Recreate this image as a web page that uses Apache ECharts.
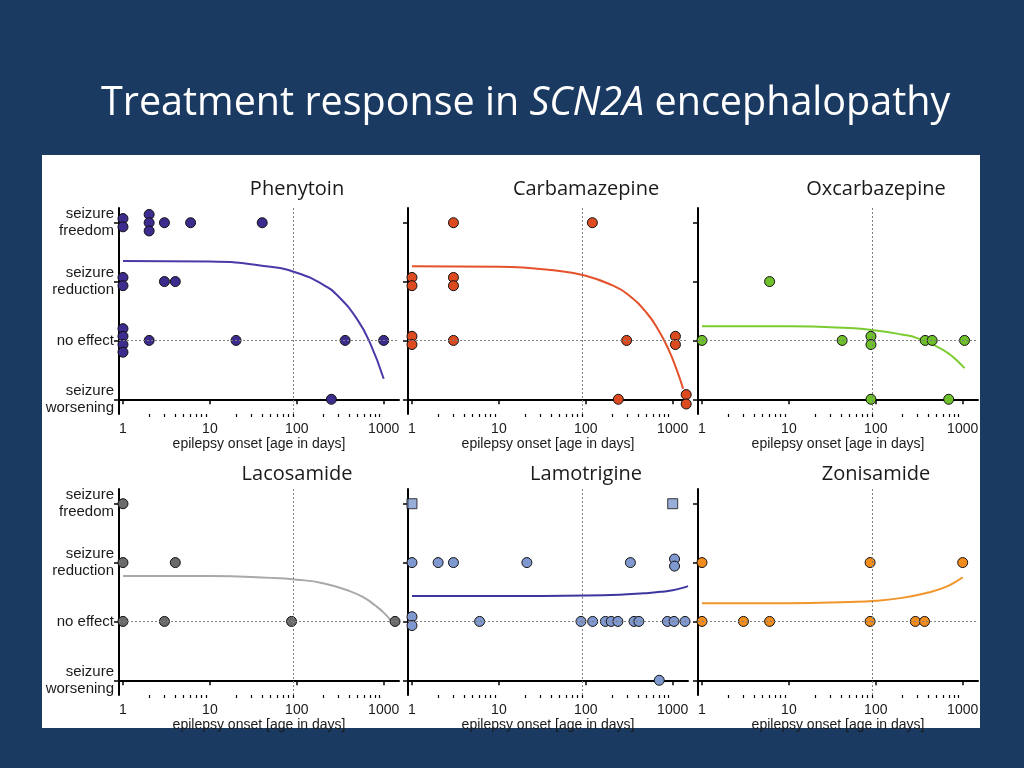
<!DOCTYPE html>
<html>
<head>
<meta charset="utf-8">
<title>Treatment response in SCN2A encephalopathy</title>
<script src="https://cdn.jsdelivr.net/npm/echarts@6/dist/echarts.min.js"></script>
<style>
  html, body { margin: 0; padding: 0; background: #1b3a61; }
  #chart { width: 1024px; height: 768px; }
</style>
</head>
<body>
<div id="chart"></div>
<script>
const drugs = ['Phenytoin', 'Carbamazepine', 'Oxcarbazepine', 'Lacosamide', 'Lamotrigine', 'Zonisamide'];
const levels = [0, 1, 2, 3];
const levelLabels = ['seizure\nworsening', 'no effect', 'seizure\nreduction', 'seizure\nfreedom'];
const xTicks = [1, 10, 100, 1000];
const xMinorTicks = [2, 3, 4, 5, 6, 7, 8, 9, 20, 30, 40, 50, 60, 70, 80, 90,
  200, 300, 400, 500, 600, 700, 800, 900];
const cutoffDay = 90;

// [age in days, response level]; stacked duplicates are nudged as in the figure
const phenytoinPts = [[1, 3.07], [1, 2.93], [2, 3.14], [2, 3], [2, 2.86], [3, 3], [6, 3], [40, 3],
  [1, 2.07], [1, 1.93], [3, 2], [4, 2],
  [1, 1.2], [1, 1.07], [1, 0.93], [1, 0.8], [2, 1], [20, 1], [360, 1], [1000, 1],
  [250, 0]];
const carbamazepinePts = [[3, 3], [119, 3],
  [1, 2.07], [1, 1.93], [3, 2.07], [3, 1.93],
  [1, 1.07], [1, 0.93], [3, 1], [295, 1], [1075, 1.07], [1075, 0.93],
  [237, 0], [1430, 0.08], [1430, -0.08]];
const oxcarbazepinePts = [[6, 2], [1, 1], [41, 1], [88, 1.07], [88, 0.93], [370, 1], [445, 1], [1050, 1],
  [88, 0], [690, 0]];
const lacosamidePts = [[1, 3], [1, 2], [4, 2], [1, 1], [3, 1], [87, 1], [1350, 1]];
const lamotriginePts = [[1, 2], [2, 2], [3, 2], [21, 2], [326, 2], [1050, 2.06], [1050, 1.94],
  [1, 1.08], [1, 0.93], [6, 1], [88, 1], [120, 1], [168, 1], [196, 1], [234, 1], [359, 1], [408, 1],
  [869, 1], [1035, 1], [1386, 1], [700, 0]];
const lamotrigineSquares = [[1, 3], [1000, 3]];
const zonisamidePts = [[1, 2], [86, 2], [1000, 2], [1, 1], [3, 1], [6, 1], [86, 1], [285, 1], [364, 1]];

// fitted curves
const phenytoinFit = [[1, 2.35], [10, 2.34], [50, 2.25], [100, 2.15], [200, 1.95], [300, 1.75], [500, 1.35], [700, 0.95], [1000, 0.35]];
const carbamazepineFit = [[1, 2.26], [10, 2.25], [50, 2.18], [100, 2.1], [200, 1.94], [300, 1.79], [500, 1.47], [700, 1.15], [900, 0.84], [1100, 0.52], [1320, 0.18]];
const oxcarbazepineFit = [[1, 1.24], [10, 1.24], [50, 1.21], [100, 1.17], [200, 1.1], [300, 1.04], [500, 0.9], [700, 0.77], [900, 0.63], [1050, 0.53]];
const lacosamideFit = [[1, 1.77], [10, 1.77], [50, 1.74], [100, 1.71], [200, 1.65], [400, 1.52], [600, 1.4], [800, 1.27], [1000, 1.15], [1200, 1.02]];
const lamotrigineFit = [[1, 1.43], [10, 1.43], [100, 1.44], [300, 1.46], [500, 1.48], [800, 1.51], [1000, 1.53], [1300, 1.57], [1500, 1.6]];
const zonisamideFit = [[1, 1.31], [10, 1.31], [50, 1.33], [100, 1.35], [200, 1.4], [400, 1.49], [600, 1.57], [800, 1.66], [1000, 1.75]];

const pointSets = [phenytoinPts, carbamazepinePts, oxcarbazepinePts, lacosamidePts, lamotriginePts, zonisamidePts];
const fitSets = [phenytoinFit, carbamazepineFit, oxcarbazepineFit, lacosamideFit, lamotrigineFit, zonisamideFit];
const pointColors = ['#3d2b8e', '#dc4a1f', '#6ec12a', '#6b6b6b', '#7f98cf', '#f28c1c'];
const lineColors = ['#4a3aa8', '#e4512a', '#7acc30', '#a9a9a9', '#3d35a0', '#f0952a'];

const colLeft = [119, 408, 698];
const rowTop = [208, 489];
const gridW = 280;
const gridH = 206;
const axisFont = 'Liberation Sans, Arial, sans-serif';

const myChart = echarts.init(document.getElementById('chart'));

const grids = [], xAxes = [], yAxes = [], series = [], titles = [];

drugs.forEach((name, i) => {
  const col = i % 3, row = Math.floor(i / 3);
  grids.push({ left: colLeft[col], top: rowTop[row], width: gridW, height: gridH });
  titles.push({
    text: name,
    left: colLeft[col] + 173,
    top: row === 0 ? 174 : 459,
    textAlign: 'center',
    textStyle: { fontFamily: 'Open Sans', fontSize: 20, fontWeight: 'normal', color: '#1a1a1a' }
  });
  xAxes.push({
    type: 'log', logBase: 10, gridIndex: i, min: 0.9, max: 1500,
    name: 'epilepsy onset [age in days]',
    nameLocation: 'middle', nameGap: 20,
    nameTextStyle: { fontFamily: axisFont, fontSize: 14, color: '#1a1a1a' },
    axisLine: { lineStyle: { color: '#000', width: 2 } },
    axisTick: { length: 5, lineStyle: { color: '#000', width: 1.5 }, customValues: xTicks },
    axisLabel: { customValues: xTicks, margin: 8, fontFamily: axisFont, fontSize: 14, color: '#1a1a1a',
      formatter: v => String(Math.round(v)) },
    splitLine: { show: false }
  });
  // minor ticks between decades
  xAxes.push({
    type: 'log', logBase: 10, gridIndex: i, min: 0.9, max: 1500, position: 'bottom',
    axisLine: { show: false },
    axisTick: { length: 3, lineStyle: { color: '#000', width: 1.2 }, customValues: xMinorTicks },
    axisLabel: { show: false },
    splitLine: { show: false }
  });
  yAxes.push({
    type: 'value', gridIndex: i, min: -0.25, max: 3.25,
    axisLine: { show: true, lineStyle: { color: '#000', width: 2 } },
    axisTick: { show: true, length: 5, lineStyle: { color: '#000', width: 1.5 }, customValues: levels },
    axisLabel: {
      show: col === 0, customValues: levels, margin: 5,
      fontFamily: axisFont, fontSize: 15, lineHeight: 17, color: '#1a1a1a', align: 'right',
      formatter: v => levelLabels[Math.round(v)]
    },
    splitLine: { show: false }
  });
  series.push({
    type: 'line', xAxisIndex: i * 2, yAxisIndex: i, data: fitSets[i],
    smooth: true, showSymbol: false, silent: true, z: 2,
    lineStyle: { color: lineColors[i], width: 2 }
  });
  series.push({
    type: 'scatter', xAxisIndex: i * 2, yAxisIndex: i, data: pointSets[i],
    symbol: 'circle', symbolSize: 10, z: 3,
    itemStyle: { color: pointColors[i], borderColor: '#111', borderWidth: 1, opacity: 1 },
    markLine: {
      silent: true, symbol: 'none', label: { show: false },
      lineStyle: { color: '#808080', type: [2, 2], width: 1 },
      data: [{ yAxis: 1 }, { xAxis: cutoffDay }]
    }
  });
  if (name === 'Lamotrigine') {
    series.push({
      type: 'scatter', xAxisIndex: i * 2, yAxisIndex: i, data: lamotrigineSquares,
      symbol: 'rect', symbolSize: 10, z: 3,
      itemStyle: { color: pointColors[i], borderColor: '#111', borderWidth: 1 }
    });
  }
});

titles.push({
  text: '{a|Treatment response in }{b|SCN2A}{a| encephalopathy}',
  left: 96, top: 79,
  textStyle: {
    fontWeight: 'normal',
    rich: {
      a: { fontFamily: 'Open Sans', fontSize: 39.5, fontWeight: 'normal', color: '#ffffff' },
      b: { fontFamily: 'Open Sans', fontSize: 39.5, fontWeight: 'normal', fontStyle: 'italic', color: '#ffffff' }
    }
  }
});

const options = {
  backgroundColor: '#1b3a61',
  animation: false,
  title: titles,
  graphic: [{
    type: 'rect', z: -100,
    shape: { x: 42, y: 155, width: 938, height: 573 },
    style: { fill: '#ffffff' }
  }],
  grid: grids,
  xAxis: xAxes,
  yAxis: yAxes,
  series: series
};

myChart.setOption(options);
</script>
</body>
</html>
